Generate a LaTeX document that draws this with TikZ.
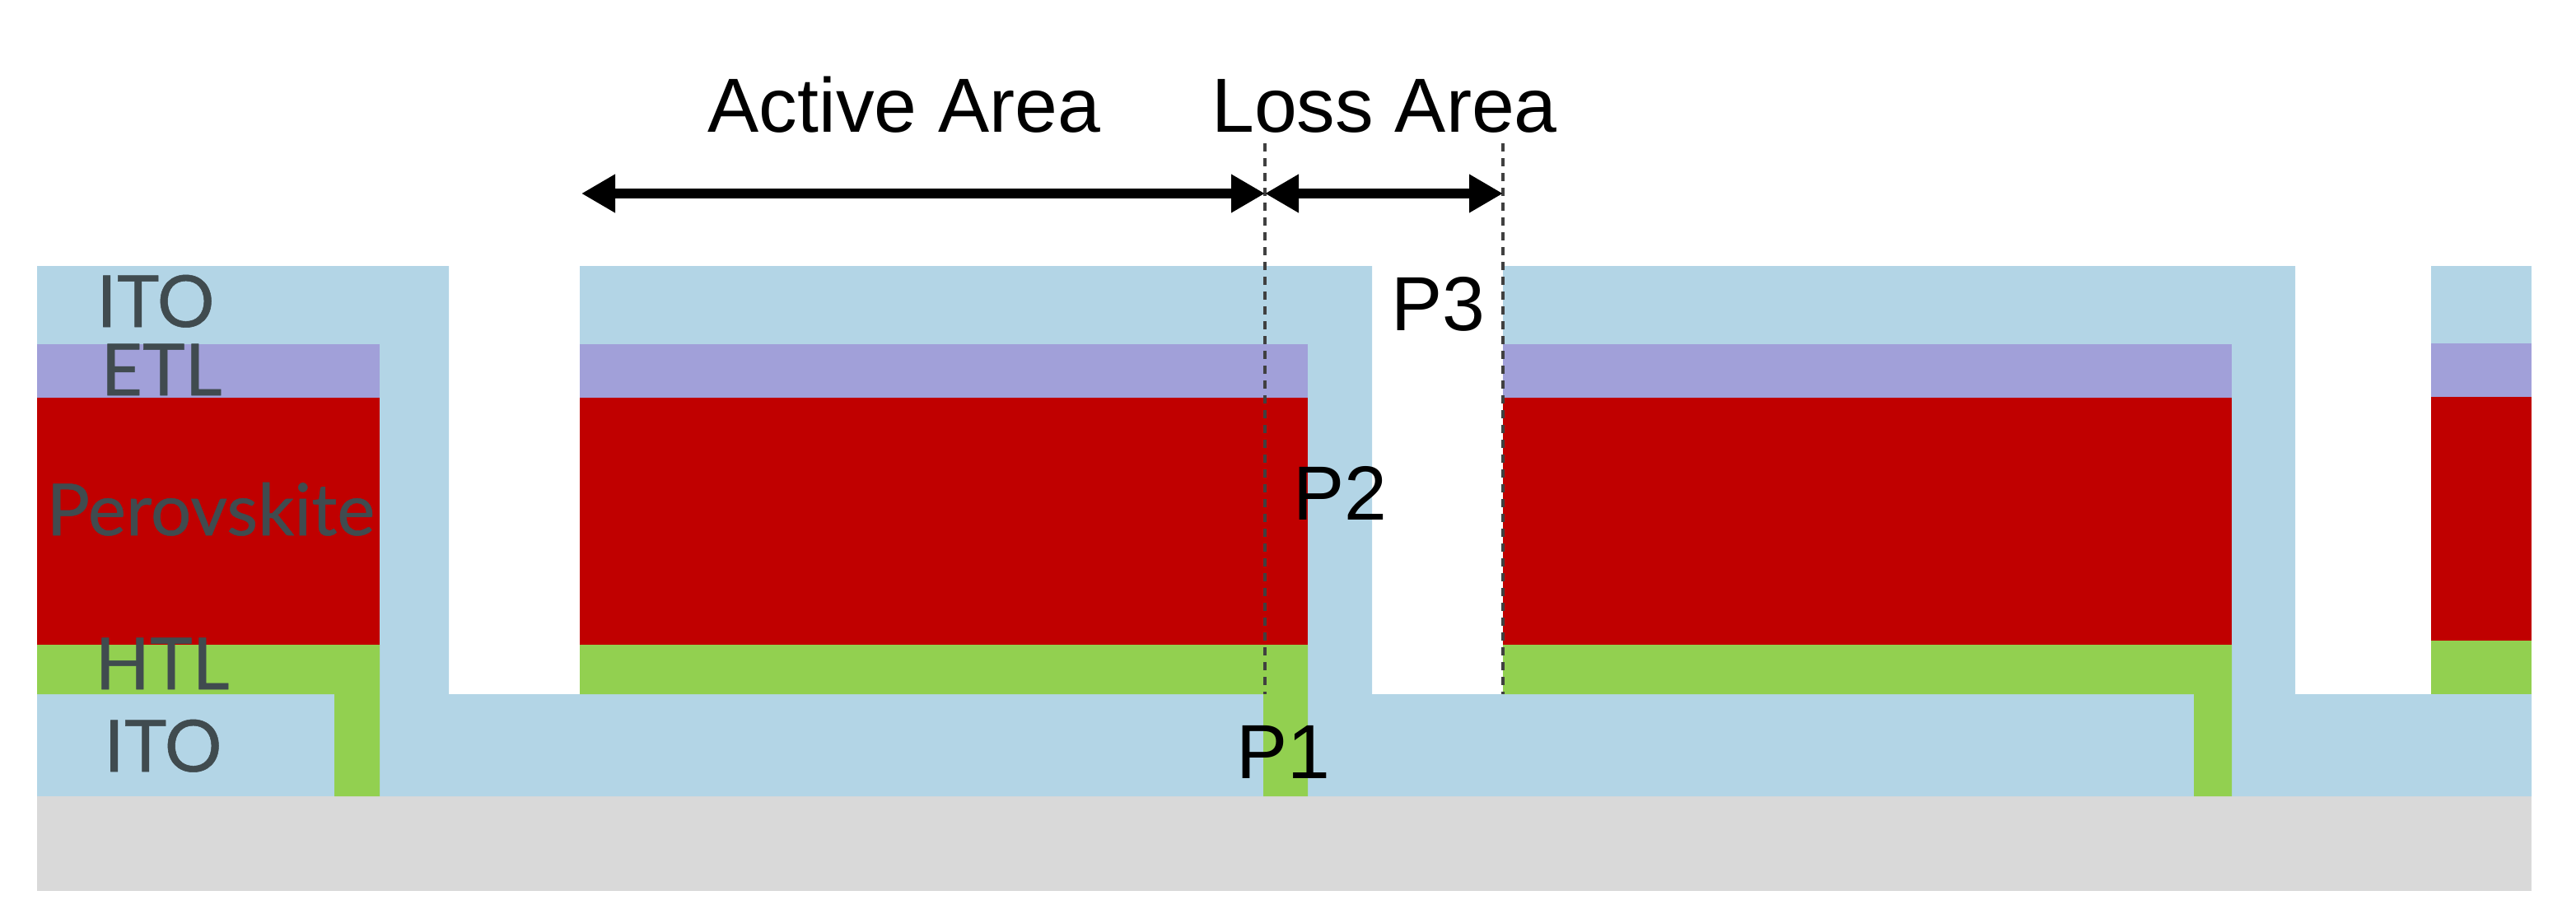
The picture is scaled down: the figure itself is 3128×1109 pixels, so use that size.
\documentclass[tikz,border=0pt]{standalone}
\usepackage{fontspec}
\setmainfont{Liberation Sans}
\newfontfamily\layerfont[FakeBold=0.6]{Lato}
\usetikzlibrary{arrows.meta}
\definecolor{itoblue}{HTML}{B3D5E6}
\definecolor{etlviolet}{HTML}{A1A0D9}
\definecolor{pvkred}{HTML}{C00000}
\definecolor{htlgreen}{HTML}{92D050}
\definecolor{glassgray}{HTML}{D9D9D9}
\definecolor{layertext}{HTML}{404B4F}
\tikzset{
    ito/.style={fill=itoblue},
    etl/.style={fill=etlviolet},
    pvk/.style={fill=pvkred},
    htl/.style={fill=htlgreen},
    glass/.style={fill=glassgray},
    layerlabel/.style={anchor=base,text=layertext,font=\layerfont\fontsize{24.8}{26}\selectfont},
    marklabel/.style={anchor=base,text=black,font=\fontsize{26.5}{28}\selectfont},
    span/.style={line width=3.2pt,{Triangle[length=4.1mm,width=4.4mm]}-{Triangle[length=4.1mm,width=4.4mm]}},
    cut/.style={line width=1pt,draw=black!75,dash pattern=on 1mm off 0.8mm}
}
\begin{document}
\begin{tikzpicture}[x=0.01cm,y=-0.01cm]
        \useasboundingbox (0,0) rectangle (3128,1109);

        % Glass
        \path[glass] (45,967) rectangle (3074,1082);

        % Cell 1
        \path[ito] (45,323) -- (545,323) -- (545,843) -- (1534,843) -- (1534,967) -- (461,967) -- (461,418) -- (45,418) -- cycle;
        \path[ito] (45,843) rectangle (406,967);
        \path[etl] (45,418) rectangle (461,483);
        \path[pvk] (45,483) rectangle (461,783);
        \path[htl] (45,783) -- (461,783) -- (461,967) -- (406,967) -- (406,843) -- (45,843) -- cycle;

        % Cell 2
        \path[ito] (704,323) -- (1666,323) -- (1666,843) -- (2664,843) -- (2664,967) -- (1588,967) -- (1588,418) -- (704,418) -- cycle;
        \path[etl] (704,418) rectangle (1588,483);
        \path[pvk] (704,483) rectangle (1588,783);
        \path[htl] (704,783) -- (1588,783) -- (1588,967) -- (1534,967) -- (1534,843) -- (704,843) -- cycle;

        % Cell 3
        \path[ito] (1825,323) -- (2787,323) -- (2787,843) -- (3074,843) -- (3074,967) -- (2710,967) -- (2710,418) -- (1825,418) -- cycle;
        \path[etl] (1825,418) rectangle (2710,483);
        \path[pvk] (1825,483) rectangle (2710,783);
        \path[htl] (1825,783) -- (2710,783) -- (2710,967) -- (2664,967) -- (2664,843) -- (1825,843) -- cycle;

        % Cell 4, cut off at the edge
        \path[ito] (2952,323) rectangle (3074,417);
        \path[etl] (2952,417) rectangle (3074,482);
        \path[pvk] (2952,482) rectangle (3074,778);
        \path[htl] (2952,778) rectangle (3074,843);

        % Layer names
        \node[layerlabel] (itotop) at (189,397) {ITO};
        \node[layerlabel] (etlname) at (196,480) {ETL};
        \node[layerlabel] (pvkname) at (256,650) {Perovskite};
        \node[layerlabel] (htlname) at (197,837) {HTL};
        \node[layerlabel] (itobot) at (198,937) {ITO};

        % Scribe lines
        \node[marklabel] (pone) at (1558,945) {P1};
        \node[marklabel] (ptwo) at (1627,631) {P2};
        \node[marklabel] (pthree) at (1746,401) {P3};

        % Areas
        \node[marklabel] (active) at (1098,160) {Active Area};
        \node[marklabel] (loss) at (1681,160) {Loss Area};
        \coordinate (acleft) at (706,235);
        \coordinate (acright) at (1536,235);
        \coordinate (lsright) at (1825,235);
        \coordinate (cuttopa) at (1536,174);
        \coordinate (cutbota) at (1536,843);
        \coordinate (cuttopb) at (1825,174);
        \coordinate (cutbotb) at (1825,843);
        \draw[cut] (cuttopa) -- (cutbota);
        \draw[cut] (cuttopb) -- (cutbotb);
        \draw[span] (acleft) -- (acright);
        \draw[span] (acright) -- (lsright);
    \end{tikzpicture}
\end{document}
